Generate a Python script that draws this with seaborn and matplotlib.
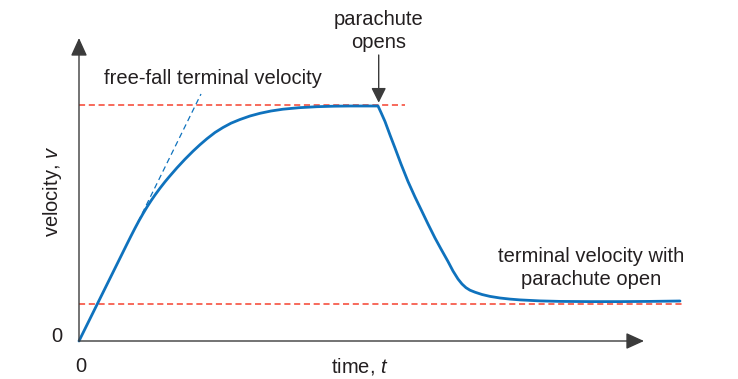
import matplotlib
matplotlib.use('Agg')
import matplotlib.pyplot as plt
import seaborn as sns
import pandas as pd

# velocity curve (time, velocity in chart units)
time = [0, 48, 52, 56, 60, 64, 68, 72, 76, 81, 86, 90, 98, 106, 114, 121,
        128, 136, 144, 152, 161, 171, 181, 192, 204, 220, 238, 255, 271, 299,
        302, 306, 311, 316, 322, 329, 336, 343, 349, 356, 362, 369, 374,
        379, 383, 387, 391, 396, 403, 411, 421, 431, 441, 461, 481, 511,
        541, 571, 601]
velocity = [0, 97, 105, 112.8, 120.3, 127.3, 134, 140.2, 146, 152.8, 159.2,
            164, 173.2, 181.8, 189.8, 196.3, 202.3, 208.5, 213.5, 217.8,
            221.5, 225, 227.7, 230, 231.8, 233.3, 234.3, 234.8, 235, 235,
            228.5, 219.5, 206, 193, 177, 159.5, 144, 129.5, 117, 103, 92,
            79.5, 70, 62, 57, 53.3, 50.8, 48.8, 46.5, 44.6, 43, 41.9, 41.1,
            40.1, 39.6, 39.4, 39.4, 39.6, 40]

# tangent of the free-fall start
tangent_t = [59, 122]
tangent_v = [119, 247]

# terminal velocity levels and how far their guides run
v_free = 236.5
v_chute = 37
free_end = 326
chute_end = 606
t_open = 300

blue = '#0f72bd'
red = '#f5412f'
dark = '#3b3b3b'
txt = '#231f20'

sns.set_style('white')
plt.rcParams['font.family'] = ['Liberation Sans', 'DejaVu Sans']
plt.rcParams['mathtext.fontset'] = 'custom'
plt.rcParams['mathtext.rm'] = 'Liberation Sans'
plt.rcParams['mathtext.it'] = 'Liberation Sans:italic'

fig = plt.figure(figsize=(7.38, 3.79), dpi=100)
ax = fig.add_axes([0, 0, 1, 1])
ax.set_xlim(-79, 659)
ax.set_ylim(-38, 341)
ax.axis('off')

# dashed guides
ax.plot([0, free_end], [v_free, v_free], color=red, lw=1.1, dashes=(4, 2.4))
ax.plot([0, chute_end], [v_chute, v_chute], color=red, lw=1.1, dashes=(4, 2.4))
ax.plot(tangent_t, tangent_v, color=blue, lw=0.9, dashes=(4.5, 3))

df = pd.DataFrame({'time': time, 'velocity': velocity})
sns.lineplot(data=df, x='time', y='velocity', sort=False, estimator=None,
             color=blue, lw=2.0, solid_joinstyle='round', ax=ax)
ax.set_xlabel('')
ax.set_ylabel('')

# axes with arrow heads
arrow = dict(arrowstyle='-|>,head_length=0.55,head_width=0.25', color=dark,
             lw=1.0, mutation_scale=20, shrinkA=0, shrinkB=0)
ax.annotate('', xy=(0, 303), xytext=(0, 0), arrowprops=arrow)
ax.annotate('', xy=(565, 0), xytext=(0, 0), arrowprops=arrow)
ax.annotate('', xy=(t_open - 0.3, 238.3), xytext=(t_open - 0.3, 286),
            arrowprops=dict(arrowstyle='-|>,head_length=0.5,head_width=0.25',
                            color=dark, lw=1.0, mutation_scale=18,
                            shrinkA=0, shrinkB=0))

fs = 14.5
ax.text(25, 257.5, 'free-fall terminal velocity', fontsize=fs, color=txt,
        ha='left', va='baseline')
for s, y in [('parachute', 316), ('opens', 292.7)]:
    ax.text(t_open, y, s, fontsize=fs, color=txt, ha='center', va='baseline')
for s, y in [('terminal velocity with', 79.3), ('parachute open', 56)]:
    ax.text(512, y, s, fontsize=fs, color=txt, ha='center', va='baseline')
ax.text(-27, 150, 'velocity, $\\mathit{v}$', fontsize=fs, color=txt,
        ha='center', va='center', rotation=90)
ax.text(-22.3, -0.7, '0', fontsize=fs, color=txt, ha='center', va='baseline')
ax.text(2.3, -30.7, '0', fontsize=fs, color=txt, ha='center', va='baseline')
ax.text(281, -31.3, 'time, $\\mathit{t}$', fontsize=fs, color=txt,
        ha='center', va='baseline')

fig.savefig('out.png', dpi=100)
